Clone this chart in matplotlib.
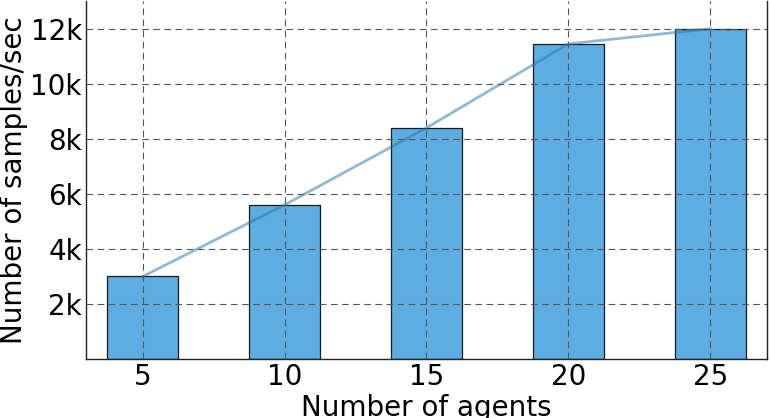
import matplotlib
matplotlib.use('Agg')
import matplotlib.pyplot as plt
from matplotlib.ticker import FuncFormatter

# Data
agents = [5, 10, 15, 20, 25]
samples_per_sec = [3000, 5600, 8400, 11450, 12000]
y_ticks = [2000, 4000, 6000, 8000, 10000, 12000]

fig = plt.figure(figsize=(7.71, 4.18), dpi=100)
ax = fig.add_axes([0.1115, 0.1411, 0.8833, 0.856])

# Bars plus a line joining their tops
ax.bar(agents, samples_per_sec, width=2.5, color='#5DADE2',
       edgecolor='#1a1a1a', linewidth=0.9, zorder=2)
ax.plot(agents, samples_per_sec, color='#2874A6', alpha=0.5,
        linewidth=2, zorder=4)

ax.set_xlim(3, 27)
ax.set_ylim(0, 13000)
ax.set_xticks(agents)
ax.set_yticks(y_ticks)
ax.yaxis.set_major_formatter(FuncFormatter(lambda v, p: '%dk' % (v / 1000)))

# Dashed grid drawn over the bars
ax.grid(True, linestyle=(0, (6, 4)), color='#555555', linewidth=0.8, zorder=3)
ax.set_axisbelow(False)

ax.tick_params(length=0, labelsize=20, pad=3)
ax.spines['top'].set_visible(False)
for s in ['left', 'bottom', 'right']:
    ax.spines[s].set_linewidth(1.0)
    ax.spines[s].set_color('#222222')

ax.set_xlabel('Number of agents', fontsize=20, labelpad=2)
ax.set_ylabel('Number of samples/sec', fontsize=20, labelpad=2)

fig.savefig('out.png', dpi=100)
